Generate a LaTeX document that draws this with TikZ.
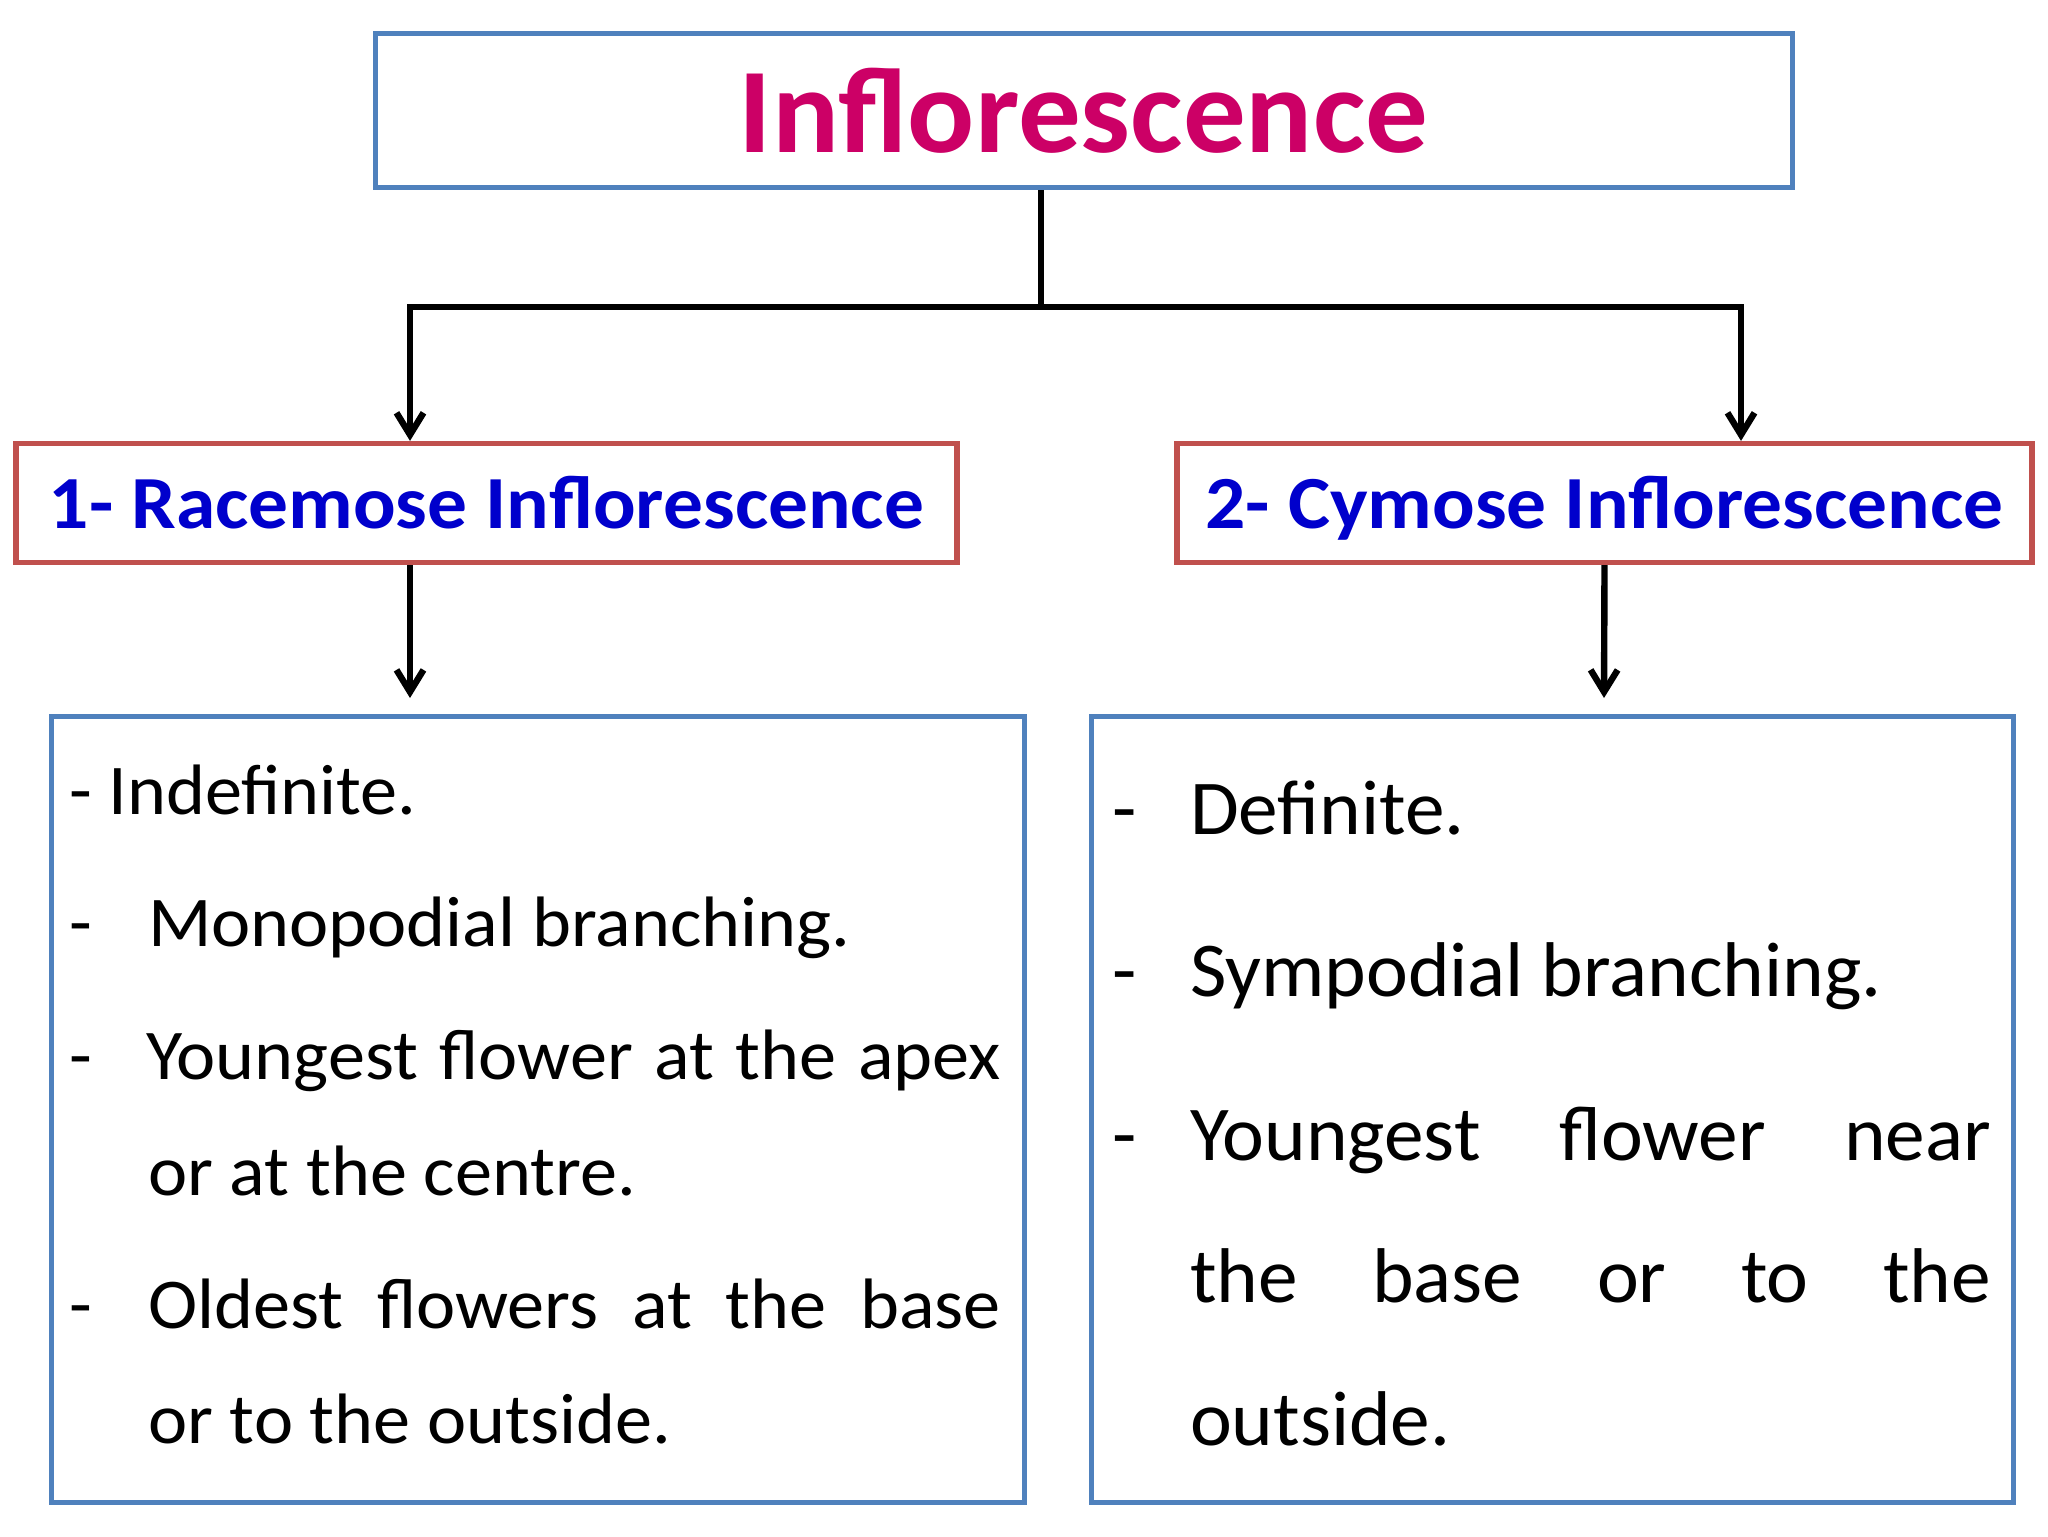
\documentclass[tikz,border=0pt]{standalone}
\usepackage{fontspec}
\setmainfont{Carlito}
\newfontfamily\titlefont[FakeStretch=1.033]{Carlito}
\newfontfamily\subfont[FakeStretch=1.06]{Carlito}
\newfontfamily\leftfont[FakeStretch=1.04]{Carlito}
\newfontfamily\rightfont[FakeStretch=1.022]{Carlito}
\usetikzlibrary{arrows.meta}
\definecolor{boxblue}{HTML}{4F81BD}
\definecolor{boxred}{HTML}{C0504D}
\definecolor{titlemag}{HTML}{CC0066}
\definecolor{subblue}{HTML}{0000CC}
\tikzset{
  titlebox/.style={draw=boxblue, line width=2.5pt, rectangle, inner sep=0pt,
    minimum width=708.5pt, minimum height=76.75pt, text height=42pt, text depth=0pt,
    font=\titlefont\fontsize{60.5}{70}\selectfont\bfseries, text=titlemag},
  subbox/.style={draw=boxred, line width=2.6pt, rectangle, inner sep=0pt,
    minimum height=59.5pt, text height=25.5pt, text depth=0pt,
    font=\subfont\fontsize{37.5}{44}\selectfont\bfseries, text=subblue},
  listbox/.style={draw=boxblue, line width=2.5pt, rectangle, inner sep=0pt,
    minimum height=393pt},
  ltxt/.style={anchor=base west, inner sep=0pt, outer sep=0pt,
    font=\leftfont\fontsize{35.7}{42}\selectfont},
  rtxt/.style={anchor=base west, inner sep=0pt, outer sep=0pt,
    font=\rightfont\fontsize{38.8}{46}\selectfont},
  conn/.style={line width=3.2pt, black, line join=miter},
  barb/.style={-{Straight Barb[length=11pt,width=13.5pt]}},
  barbs/.style={{Straight Barb[length=11pt,width=13.5pt]}-{Straight Barb[length=11pt,width=13.5pt]}}
}
\begin{document}
\begin{tikzpicture}[x=0.5pt,y=-0.5pt]
\useasboundingbox[fill=white] (0,0) rectangle (2048,1536);

% boxes
\node[titlebox] (title) at (1083.5,110.75) {Inflorescence};
\node[subbox, minimum width=470.5pt] (race) at (486.5,503) {1- Racemose Inflorescence};
\node[subbox, minimum width=427.5pt] (cyme) at (1604.5,503) {2- Cymose Inflorescence};
\node[listbox, minimum width=486.5pt] (lbox) at (537.5,1109) {};
\node[listbox, minimum width=461pt] (rbox) at (1552.5,1109) {};

% connectors
\coordinate (jm) at (1041,307);
\coordinate (jl) at (410,307);
\coordinate (jr) at (1741,307);
\coordinate (lend) at (410,698);
\coordinate (rend) at (1604,698);
\draw[conn] (jm |- title.south) -- (jm);
\draw[conn, barbs] (jl |- race.north) -- (jl) -- (jr) -- (jr |- cyme.north);
\draw[conn, barb] (lend |- race.south) -- (lend);
\draw[conn, barb] (cyme.south) -- (rend);

% left list
\node[ltxt] (l1) at (69,814) {- Indefinite.};
\node[ltxt] (l2d) at (69,946) {-};
\node[ltxt] (l2) at (148,946) {Monopodial branching.};
\node[ltxt] (l3d) at (69,1079) {-};
\node[ltxt] (l3) at (146,1079) {\hbox to 427.5pt{Youngest\hfill flower\hfill at\hfill the\hfill apex}};
\node[ltxt] (l3b) at (148,1195) {or at the centre.};
\node[ltxt] (l4d) at (69,1328) {-};
\node[ltxt] (l4) at (148,1328) {\hbox to 426.5pt{Oldest\hfill flowers\hfill at\hfill the\hfill base}};
\node[ltxt] (l4b) at (148,1443) {or to the outside.};

% right list
\node[rtxt] (r1d) at (1112,834) {-};
\node[rtxt] (r1) at (1190,834) {Definite.};
\node[rtxt] (r2d) at (1112,996) {-};
\node[rtxt] (r2) at (1190,996) {Sympodial branching.};
\node[rtxt] (r3d) at (1112,1160) {-};
\node[rtxt] (r3) at (1190,1160) {\hbox to 400.5pt{Youngest\hfill flower\hfill near}};
\node[rtxt] (r3b) at (1190,1302) {\hbox to 400.5pt{the\hfill base\hfill or\hfill to\hfill the}};
\node[rtxt] (r3c) at (1190,1445) {outside.};
\end{tikzpicture}
\end{document}
